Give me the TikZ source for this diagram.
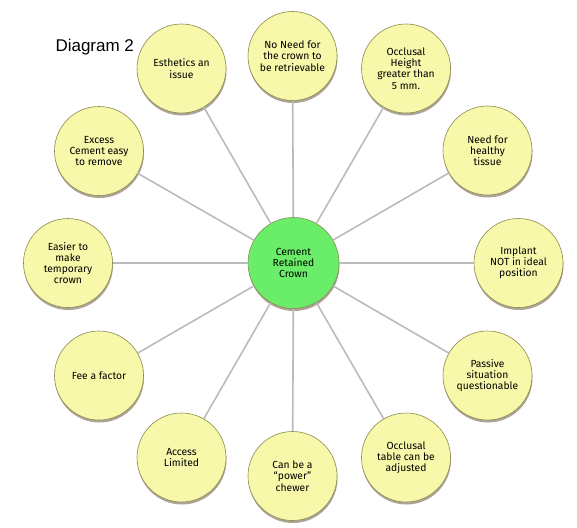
\documentclass[tikz,border=0pt]{standalone}
\usepackage{fontspec}
\setmainfont{Fira Sans}
\newfontfamily\titlefont{Liberation Sans}
\usetikzlibrary{shadows}
\definecolor{bubble}{HTML}{F8F8AA}
\definecolor{hub}{HTML}{6AEE6A}
\definecolor{rim}{HTML}{8A8A50}
\definecolor{spoke}{HTML}{BBBBBB}
\tikzset{
  bub/.style={circle, draw=rim, line width=0.6pt, fill=bubble, minimum size=89pt, inner sep=0pt,
    align=center, font=\fontsize{10.3}{11.2}\selectfont,
    drop shadow={shadow xshift=0.5pt, shadow yshift=-2.5pt, opacity=0.45, fill=black!60!brown}},
  hubnode/.style={bub, fill=hub, minimum size=91pt},
  spk/.style={draw=spoke, line width=1.6pt}
}
\begin{document}
\begin{tikzpicture}[x=1pt,y=-1pt]
\useasboundingbox (0,0) rectangle (577,527);
\node[font=\titlefont\fontsize{17}{20}\selectfont, anchor=base west] (title) at (52,52) {Diagram 2};
\node[hubnode] (c) at (293.5,263) {Cement\\Retained\\Crown};
\node[bub] (n1) at (292.5,56) {No Need for\\the crown to\\be retrievable};
\node[bub] (n2) at (406,68.5) {Occlusal\\Height\\greater than\\5 mm.};
\node[bub] (n3) at (487.5,150.5) {Need for\\healthy\\tissue};
\node[bub] (n4) at (518.5,263) {Implant\\NOT in ideal\\position};
\node[bub] (n5) at (487.5,375.5) {Passive\\situation\\questionable};
\node[bub] (n6) at (406,457.5) {Occlusal\\table can be\\adjusted};
\node[bub] (n7) at (292.5,476) {Can be a\\``power''\\chewer};
\node[bub] (n8) at (181.5,457.5) {Access\\Limited};
\node[bub] (n9) at (99,375.5) {Fee a factor};
\node[bub] (n10) at (68,263) {Easier to\\make\\temporary\\crown};
\node[bub] (n11) at (99,151) {Excess\\Cement easy\\to remove};
\node[bub] (n12) at (181.5,68.5) {Esthetics an\\issue};
\foreach \n in {n1,n2,n3,n4,n5,n6,n7,n8,n9,n10,n11,n12}{
  \path[spk] (c) -- (\n);
}
\end{tikzpicture}
\end{document}
